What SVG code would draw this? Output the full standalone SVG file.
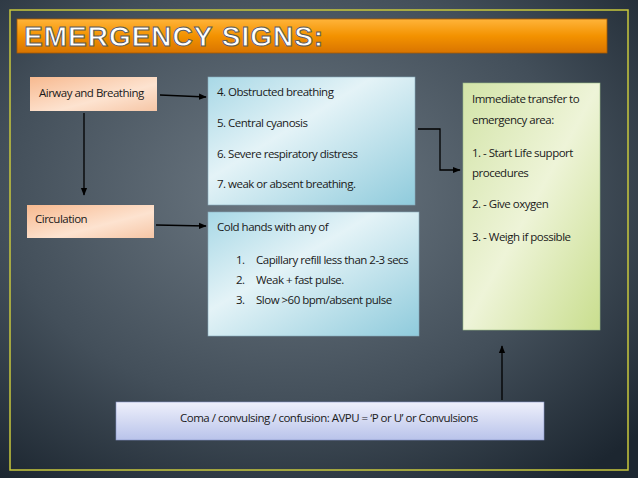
<svg xmlns="http://www.w3.org/2000/svg" width="638" height="478" viewBox="0 0 638 478">
<defs>
<radialGradient id="bg" cx="0.45" cy="0.4" r="0.75"><stop offset="0" stop-color="#6e7a84"/><stop offset="0.6" stop-color="#434f5a"/><stop offset="1" stop-color="#1c2630"/></radialGradient>
<linearGradient id="title" x1="0" y1="0" x2="0" y2="1"><stop offset="0" stop-color="#ffb43a"/><stop offset="0.5" stop-color="#f39200"/><stop offset="1" stop-color="#d97400"/></linearGradient>
<linearGradient id="peach" x1="0" y1="0" x2="1" y2="1"><stop offset="0" stop-color="#f7b98f"/><stop offset="0.6" stop-color="#fde3d0"/><stop offset="1" stop-color="#f6c6a6"/></linearGradient>
<linearGradient id="blue" x1="0" y1="0" x2="1" y2="1"><stop offset="0" stop-color="#a8d8e6"/><stop offset="0.4" stop-color="#e4f3f7"/><stop offset="1" stop-color="#8fcbdc"/></linearGradient>
<linearGradient id="green" x1="0" y1="0" x2="1" y2="1"><stop offset="0" stop-color="#d3e4a8"/><stop offset="0.5" stop-color="#eef4d8"/><stop offset="1" stop-color="#c9de8e"/></linearGradient>
<linearGradient id="lav" x1="0" y1="0" x2="0" y2="1"><stop offset="0" stop-color="#eef0fb"/><stop offset="1" stop-color="#b9c3ea"/></linearGradient>
<marker id="ar" viewBox="0 0 10 10" refX="9" refY="5" markerWidth="6" markerHeight="6" orient="auto"><path d="M0,1 L10,5 L0,9 z" fill="#000"/></marker>
</defs>
<style>
text{font-family:"Open Sans","Liberation Sans",sans-serif;font-size:11.5px;fill:#1a1a1a;letter-spacing:-0.5px}
.ln{stroke:#000;stroke-width:1.3;fill:none;marker-end:url(#ar)}
</style>
<rect width="638" height="478" fill="url(#bg)"/>
<rect x="10" y="10" width="618" height="460" fill="none" stroke="#c8c83c" stroke-width="1.5"/>
<g id="title-bar">
<rect x="17" y="19" width="590" height="34" fill="url(#title)" stroke="#a85a00" stroke-width="0.8"/>
<text x="24" y="46" style="font-family:'Liberation Sans',sans-serif;font-size:28px;font-weight:bold;fill:#fff;stroke:#5a5a5a;stroke-width:1;letter-spacing:1px">EMERGENCY SIGNS:</text>
</g>
<g id="airway"><rect x="30" y="77" width="127" height="34" fill="url(#peach)"/><text x="39" y="97">Airway and Breathing</text></g>
<g id="circulation"><rect x="27" y="205" width="127" height="33" fill="url(#peach)"/><text x="35" y="223">Circulation</text></g>
<g id="signs1"><rect x="208" y="77" width="207" height="128" fill="url(#blue)" stroke="#8ab" stroke-width="0.6"/>
<text x="217" y="96">4. Obstructed breathing</text><text x="217" y="127">5. Central cyanosis</text><text x="217" y="158">6. Severe respiratory distress</text><text x="217" y="188">7. weak or absent breathing.</text></g>
<g id="signs2"><rect x="208" y="212" width="211" height="124" fill="url(#blue)" stroke="#8ab" stroke-width="0.6"/>
<text x="217" y="231">Cold hands with any of</text><text x="236" y="264">1.</text><text x="256" y="264">Capillary refill less than 2-3 secs</text><text x="236" y="284">2.</text><text x="256" y="284">Weak + fast pulse.</text><text x="236" y="304">3.</text><text x="256" y="304">Slow &gt;60 bpm/absent pulse</text></g>
<g id="action"><rect x="463" y="83" width="137" height="247" fill="url(#green)" stroke="#9b8" stroke-width="0.6"/>
<text x="472" y="103">Immediate transfer to</text><text x="472" y="124">emergency area:</text><text x="472" y="157">1. - Start Life support</text><text x="472" y="177">procedures</text><text x="472" y="208">2. - Give oxygen</text><text x="472" y="241">3. - Weigh if possible</text></g>
<g id="coma"><rect x="116" y="402" width="428" height="38" fill="url(#lav)" stroke="#8895c8" stroke-width="0.6"/><text x="180" y="422">Coma / convulsing / confusion: AVPU = ‘P or U’ or Convulsions</text></g>
<g id="connectors">
<path class="ln" d="M160,95 L206,97"/>
<path class="ln" d="M84,113 L84,195"/>
<path class="ln" d="M156,225 L206,226"/>
<path class="ln" d="M418,129 L440,129 L440,170 L460,170"/>
<path class="ln" d="M502,400 L502,346"/>
</g>
</svg>
